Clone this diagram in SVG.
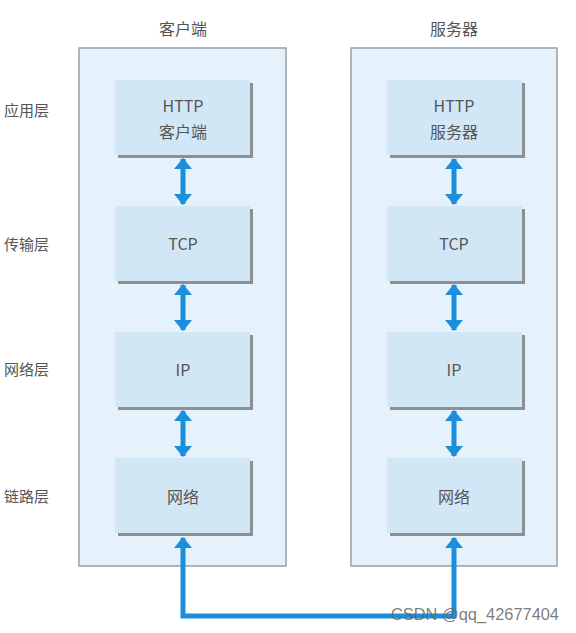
<svg xmlns="http://www.w3.org/2000/svg" width="576" height="633" viewBox="0 0 576 633">
<defs>
<style>
.panel{fill:#e5f1fb;stroke:#9a9ea3;stroke-width:1.5}
.box{fill:#d2e7f6}
.shadow{fill:#8b9095}
.t{font-family:"Noto Sans CJK SC","Noto Sans",sans-serif;font-size:16px;fill:#555;text-anchor:middle}
.lab{font-family:"Noto Sans CJK SC","Noto Sans",sans-serif;font-size:15px;fill:#555}
.arr{stroke:#1b8fdc;stroke-width:5;fill:none}
</style>
<marker id="ah" viewBox="0 0 10 10" refX="9" refY="5" markerUnits="userSpaceOnUse" markerWidth="11" markerHeight="18" preserveAspectRatio="none" orient="auto-start-reverse">
<path d="M0,0 L10,5 L0,10 Z" fill="#1b8fdc"/>
</marker>
</defs>
<rect width="576" height="633" fill="#fff"/>
<g id="labels">
<text class="t" x="183" y="35">客户端</text>
<text class="t" x="454" y="35">服务器</text>
<text class="lab" x="4" y="116">应用层</text>
<text class="lab" x="4" y="250">传输层</text>
<text class="lab" x="4" y="375">网络层</text>
<text class="lab" x="4" y="502">链路层</text>
</g>
<g id="client">
<rect class="panel" x="79" y="48" width="207" height="518"/>
</g>
<g id="server">
<rect class="panel" x="351" y="48" width="206" height="518"/>
</g>
<g id="client-http"><rect class="shadow" x="118" y="83" width="135" height="75"/><rect class="box" x="115" y="80" width="135" height="75"/><text class="t" x="183" y="112">HTTP</text><text class="t" x="183" y="138">客户端</text></g>
<g id="client-tcp"><rect class="shadow" x="118" y="209" width="135" height="75"/><rect class="box" x="115" y="206" width="135" height="75"/><text class="t" x="183" y="250">TCP</text></g>
<g id="client-ip"><rect class="shadow" x="118" y="335" width="135" height="75"/><rect class="box" x="115" y="332" width="135" height="75"/><text class="t" x="183" y="376">IP</text></g>
<g id="client-net"><rect class="shadow" x="118" y="461" width="135" height="75"/><rect class="box" x="115" y="458" width="135" height="75"/><text class="t" x="183" y="503">网络</text></g>
<g id="server-http"><rect class="shadow" x="390" y="83" width="135" height="75"/><rect class="box" x="387" y="80" width="135" height="75"/><text class="t" x="454" y="112">HTTP</text><text class="t" x="454" y="138">服务器</text></g>
<g id="server-tcp"><rect class="shadow" x="390" y="209" width="135" height="75"/><rect class="box" x="387" y="206" width="135" height="75"/><text class="t" x="454" y="250">TCP</text></g>
<g id="server-ip"><rect class="shadow" x="390" y="335" width="135" height="75"/><rect class="box" x="387" y="332" width="135" height="75"/><text class="t" x="454" y="376">IP</text></g>
<g id="server-net"><rect class="shadow" x="390" y="461" width="135" height="75"/><rect class="box" x="387" y="458" width="135" height="75"/><text class="t" x="454" y="503">网络</text></g>
<g id="connectors">
<line class="arr" x1="183" y1="159" x2="183" y2="204" marker-start="url(#ah)" marker-end="url(#ah)"/>
<line class="arr" x1="183" y1="285" x2="183" y2="330" marker-start="url(#ah)" marker-end="url(#ah)"/>
<line class="arr" x1="183" y1="411" x2="183" y2="456" marker-start="url(#ah)" marker-end="url(#ah)"/>
<line class="arr" x1="454" y1="159" x2="454" y2="204" marker-start="url(#ah)" marker-end="url(#ah)"/>
<line class="arr" x1="454" y1="285" x2="454" y2="330" marker-start="url(#ah)" marker-end="url(#ah)"/>
<line class="arr" x1="454" y1="411" x2="454" y2="456" marker-start="url(#ah)" marker-end="url(#ah)"/>
<path class="arr" d="M183,538 L183,616 L454,616 L454,538" marker-start="url(#ah)" marker-end="url(#ah)"/>
</g>
<text x="391" y="620" font-family="Liberation Sans, sans-serif" font-size="17" textLength="168" lengthAdjust="spacingAndGlyphs" fill="#666" fill-opacity="0.85">CSDN @qq_42677404</text>
</svg>
